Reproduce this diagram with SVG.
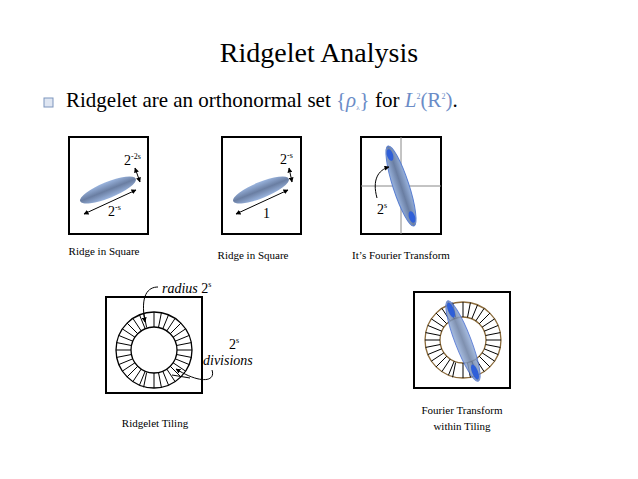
<svg xmlns="http://www.w3.org/2000/svg" width="638" height="479" viewBox="0 0 638 479">
<defs>
<marker id="ah" viewBox="0 0 10 10" refX="9" refY="5" markerWidth="5" markerHeight="5" orient="auto-start-reverse"><path d="M0,0 L10,5 L0,10 z" fill="#000"/></marker>
<linearGradient id="g" x1="0" y1="0" x2="0" y2="1"><stop offset="0" stop-color="#9ab4de"/><stop offset="0.5" stop-color="#6a7ea2"/><stop offset="1" stop-color="#9ab4de"/></linearGradient>
</defs>
<style>
text{font-family:"Liberation Serif",serif;fill:#000}
.box{fill:#fff;stroke:#000;stroke-width:2}
.lbl{font-size:11px;text-anchor:middle}
.m{font-size:14px}
.sup{font-size:8px}
.ar{stroke:#000;stroke-width:1;fill:none;marker-end:url(#ah)}
.ar2{stroke:#000;stroke-width:1;fill:none;marker-end:url(#ah);marker-start:url(#ah)}
</style>
<rect width="638" height="479" fill="#fff"/>
<text x="319" y="62" font-size="28" text-anchor="middle">Ridgelet Analysis</text>
<rect x="44" y="98" width="9" height="9" fill="#dfe6f2" stroke="#7d95bd"/>
<text x="66" y="107" font-size="21">Ridgelet are an orthonormal set <tspan fill="#6b8cc7">{<tspan font-style="italic">ρ</tspan><tspan font-size="7" dy="3">λ</tspan><tspan dy="-3">}</tspan></tspan> for <tspan fill="#6b8cc7" font-style="italic">L</tspan><tspan font-size="8" dy="-8" fill="#6b8cc7">2</tspan><tspan dy="8" fill="#6b8cc7">(R</tspan><tspan font-size="8" dy="-8" fill="#6b8cc7">2</tspan><tspan dy="8" fill="#6b8cc7">)</tspan>.</text>

<g id="n1">
<rect class="box" x="69" y="137" width="79" height="97"/>
<ellipse cx="108" cy="190" rx="30" ry="8" transform="rotate(-22 108 190)" fill="url(#g)"/>
<line class="ar2" x1="84" y1="214" x2="136" y2="190"/>
<line class="ar2" x1="135" y1="168" x2="140" y2="182"/>
<text x="124" y="165" class="m">2<tspan class="sup" dy="-6">-2s</tspan></text>
<text x="108" y="216" class="m">2<tspan class="sup" dy="-6">-s</tspan></text>
<text x="104" y="255" class="lbl">Ridge in Square</text>
</g>
<g id="n2">
<rect class="box" x="222" y="137" width="79" height="97"/>
<ellipse cx="261" cy="190" rx="30" ry="8" transform="rotate(-22 261 190)" fill="url(#g)"/>
<line class="ar2" x1="236" y1="214" x2="288" y2="190"/>
<line class="ar2" x1="289" y1="168" x2="292" y2="182"/>
<text x="280" y="164" class="m">2<tspan class="sup" dy="-6">-s</tspan></text>
<text x="263" y="218" class="m">1</text>
<text x="253" y="259" class="lbl">Ridge in Square</text>
</g>
<g id="n3">
<rect class="box" x="361" y="137" width="80" height="97"/>
<line x1="401" y1="137" x2="401" y2="234" stroke="#888"/>
<line x1="361" y1="186" x2="441" y2="186" stroke="#888"/>
<ellipse cx="401" cy="186" rx="42" ry="8" transform="rotate(72 401 186)" fill="url(#g)" stroke="#5a7fd0" stroke-width="1"/>
<ellipse cx="390" cy="155" rx="6" ry="3" transform="rotate(72 390 155)" fill="#2f5fd8"/>
<ellipse cx="412" cy="217" rx="6" ry="3" transform="rotate(72 412 217)" fill="#2f5fd8"/>
<path class="ar" d="M377,198 C372,180 378,170 389,167"/>
<text x="377" y="214" class="m">2<tspan class="sup" dy="-6">s</tspan></text>
<text x="401" y="259" class="lbl">It’s Fourier Transform</text>
</g>
<g id="n4">
<rect class="box" x="106" y="297" width="96" height="96"/>
<circle cx="154" cy="350" r="38" fill="none" stroke="#000" stroke-width="1.3"/>
<circle cx="154" cy="350" r="23" fill="none" stroke="#000" stroke-width="1.3"/>
<g stroke="#000" stroke-width="1" id="sp1">
<path d="M154,312V327M154,373V388M116,350H131M177,350H192M161.4,312.7L158.5,327.4M146.6,372.6L143.6,387.3M168.5,314.9L162.8,328.8M145.2,371.2L139.5,385.1M175.1,318.4L166.8,330.9M141.2,369.1L132.9,381.6M180.9,323.1L170.3,333.7M137.7,366.3L127.1,376.9M185.6,328.9L173.1,337.2M134.9,362.8L122.4,371.1M189.1,335.5L175.2,341.2M132.8,358.8L118.9,364.5M191.3,342.6L176.6,345.5M131.4,354.5L116.7,357.4M191.3,357.4L176.6,354.5M131.4,345.5L116.7,342.6M189.1,364.5L175.2,358.8M132.8,341.2L118.9,335.5M185.6,371.1L173.1,362.8M134.9,337.2L122.4,328.9M180.9,376.9L170.3,366.3M137.7,333.7L127.1,323.1M175.1,381.6L166.8,369.1M141.2,330.9L132.9,318.4M168.5,385.1L162.8,371.2M145.2,328.8L139.5,314.9M161.4,387.3L158.5,372.6M146.6,327.4L143.6,312.7"/>
</g>
<path class="ar" d="M158,287 C148,287 140,295 145,322"/>
<text x="162" y="293" font-size="14" font-style="italic">radius <tspan font-style="normal">2</tspan><tspan class="sup" dy="-6" font-style="normal">s</tspan></text>
<text x="229" y="349" class="m">2<tspan class="sup" dy="-6">s</tspan></text>
<text x="203" y="365" font-size="14" font-style="italic">divisions</text>
<path class="ar" d="M212,370 C216,382 200,384 176,369"/>
<path d="M190,378 L172,375" stroke="#000" fill="none"/>
<text x="155" y="427" class="lbl">Ridgelet Tiling</text>
</g>
<g id="n5">
<rect class="box" x="414" y="292" width="96" height="96"/>
<g transform="translate(309,-10)" stroke="#8a6a3a">
<circle cx="154" cy="350" r="38" fill="none" stroke-width="1.3"/>
<circle cx="154" cy="350" r="23" fill="none" stroke-width="1.3"/>
<use href="#sp1" stroke="#8a6a3a"/>
</g>
<ellipse cx="463" cy="341" rx="43" ry="8" transform="rotate(69 463 341)" fill="url(#g)" opacity="0.85" stroke="#4a6fd0"/>
<ellipse cx="451" cy="310" rx="8" ry="3" transform="rotate(69 451 310)" fill="#2f5fd8"/>
<ellipse cx="475" cy="372" rx="8" ry="3" transform="rotate(69 475 372)" fill="#2f5fd8"/>
<text x="462" y="414" class="lbl">Fourier Transform</text>
<text x="462" y="430" class="lbl">within Tiling</text>
</g>
</svg>
